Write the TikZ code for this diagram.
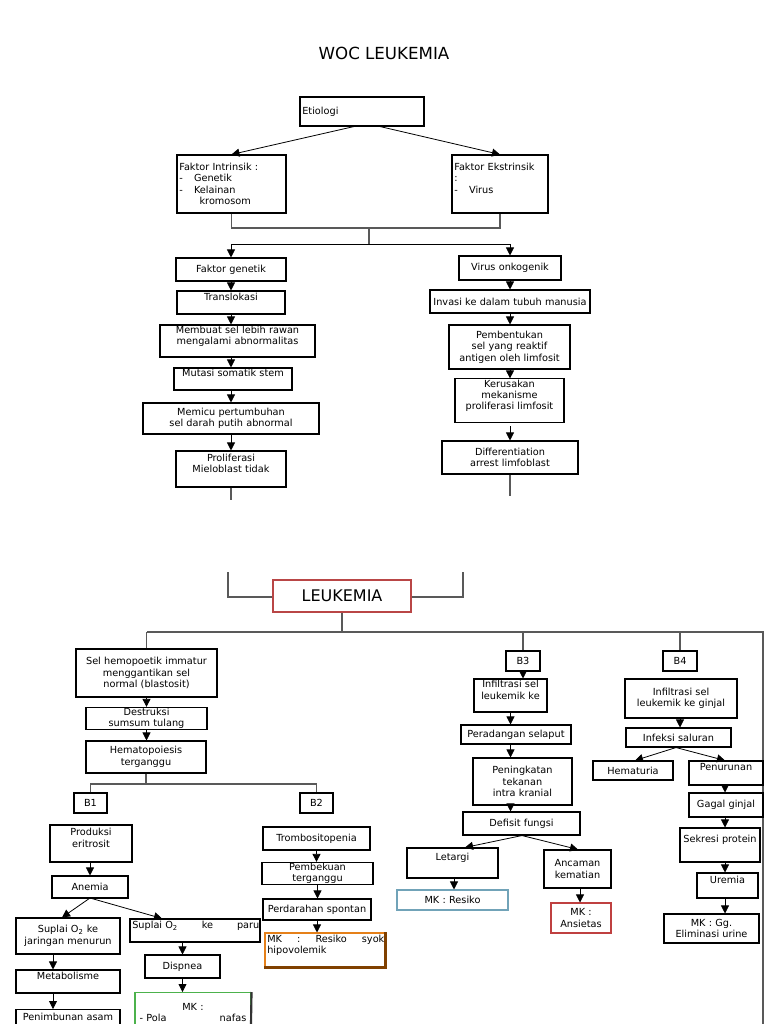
\documentclass[tikz,border=0pt]{standalone}
\usepackage{fontspec}
\setmainfont{DejaVu Sans}
\usetikzlibrary{arrows.meta}
\hyphenpenalty=10000\relax
\exhyphenpenalty=10000\relax
\newcommand\bx[7][]{%
  \pgfmathsetmacro\bw{(#5-#3)*0.75}\pgfmathsetmacro\bh{(#6-#4)*0.75}\pgfmathsetmacro\tw{\bw-1}%
  \node[box,minimum width=\bw pt,minimum height=\bh pt,text width=\tw pt,#1] (#2) at ({(#3+#5)/2},{(#4+#6)/2}) {#7};}
\begin{document}
\begin{tikzpicture}[x=0.75pt,y=-0.75pt,
  box/.style={draw=black,line width=0.8pt,inner sep=0.5pt,align=center,font=\fontsize{7.3}{8.6}\selectfont},
  arr/.style={-{Triangle[length=6pt,width=6pt]},line width=0.6pt},
  ln/.style={draw=gray!70!black,line width=0.8pt}]
\useasboundingbox[fill=white] (0,0) rectangle (768,1024);
\node[font=\fontsize{12.5}{14}\selectfont] (title) at (384,53) {WOC LEUKEMIA};
% top part
\bx[align=left]{eti}{300}{97}{424}{126}{\,Etiologi\\[7pt]}
\bx[align=left]{fi}{177}{155}{286}{213}{\,Faktor Intrinsik :\\\,-\hspace{6pt} Genetik\\\,-\hspace{6pt} Kelainan\\\hspace{14pt} kromosom}
\bx[align=left]{fe}{452}{155}{548}{213}{\,Faktor Ekstrinsik\\\,:\\\,-\hspace{6pt} Virus\\~}
\bx{fg}{176}{258}{286}{281}{Faktor genetik}
\bx{tr}{177}{291}{285}{314}{Translokasi\\~}
\bx{mb}{160}{325}{315}{357}{Membuat sel lebih rawan mengalami abnormalitas\\~}
\bx{mu}{174}{368}{292}{390}{Mutasi somatik stem\\~}
\bx{mc}{143}{403}{319}{434}{Memicu pertumbuhan sel darah putih abnormal}
\bx{pr}{176}{451}{286}{487}{Proliferasi Mieloblast tidak\\~}
\bx{vo}{459}{256}{561}{280}{Virus onkogenik}
\bx{in}{430}{290}{590}{313}{Invasi ke dalam tubuh manusia}
\bx{pb}{449}{325}{570}{369}{Pembentukan sel yang reaktif antigen oleh limfosit}
\bx{ke}{455}{382}{564}{419}{Kerusakan mekanisme proliferasi limfosit\\~}
\bx{di}{442}{441}{578}{474}{Differentiation arrest limfoblast}
\draw[arr] (eti.south) ++(-8,0) coordinate (e1) -- (fi.north);
\draw[arr] (eti.south) ++(18,0) coordinate (e2) -- (fe.north);
\coordinate (j1) at (369,228); \coordinate (j2) at (369,244);
\draw[ln] (fi.south) -- (fi.south|-j1) -- (fe.south|-j1) -- (fe.south);
\draw[ln] (j1) -- (j2);
\draw[arr] (j2) -- (fg.north|-j2) -- (fg.north);
\draw[arr] (j2) -- (vo.north|-j2) -- (vo.north);
\foreach \a/\b in {fg/tr,tr/mb,mb/mu,mu/mc,mc/pr}
  \draw[arr] (\a.south-|231,0) -- (\b.north-|231,0);
\foreach \a/\b in {vo/in,in/pb,pb/ke}
  \draw[arr] (\a.south-|510,0) -- (\b.north-|510,0);
\coordinate (kd) at (510,426);
\draw[arr] (kd) -- (di.north-|kd);
\coordinate (pe) at (231,500); \coordinate (de) at (510,496);
\draw[ln] (pr.south) -- (pe);
\draw[ln] (di.south) -- (de);
% bottom part
\bx[draw=red!45!gray,font=\fontsize{12}{14}\selectfont]{leu}{273}{580}{411}{612}{LEUKEMIA}
\coordinate (l1) at (228,572); \coordinate (r1) at (463,572);
\draw[ln] (l1) -- (228,597) -- (leu.west|-0,597);
\draw[ln] (r1) -- (463,597) -- (leu.east|-0,597);
\coordinate (h0) at (342,632); \coordinate (hr) at (763,632); \coordinate (hb) at (763,1024);
\draw[ln] (leu.south) -- (h0);
\draw[ln] (147,632) -- (hr) -- (hb);
\bx{sh}{76}{649}{217}{697}{Sel hemopoetik immatur menggantikan sel normal (blastosit)}
\bx{ds}{86}{708}{207}{729}{Destruksi sumsum tulang}
\bx{hm}{86}{741}{206}{773}{Hematopoiesis terganggu}
\bx{b1}{74}{793}{107}{813}{B1}
\bx{b2}{300}{793}{333}{813}{B2}
\bx{b3}{506}{651}{540}{671}{B3}
\bx{b4}{663}{651}{697}{671}{B4}
\draw[ln] (sh.north|-h0) -- (sh.north);
\draw[ln] (b3.north|-h0) -- (b3.north);
\draw[ln] (b4.north|-h0) -- (b4.north);
\draw[arr] (sh.south) -- (sh.south|-ds.north);
\draw[arr] (ds.south) -- (ds.south|-hm.north);
\coordinate (hj) at (147,784);
\draw[ln] (hm.south) -- (hm.south|-hj);
\draw[ln] (b1.north) -- (b1.north|-hj) -- (b2.north|-hj) -- (b2.north);
% B1
\bx{pe2}{50}{825}{132}{862}{Produksi eritrosit\\~}
\bx{an}{52}{876}{128}{898}{Anemia}
\bx{sj}{16}{918}{120}{954}{Suplai O\textsubscript{2} ke jaringan menurun}
\bx[align=justify]{sp}{130}{919}{260}{942}{\,Suplai O\textsubscript{2} \hfill ke \hfill paru\\~}
\bx{me}{16}{970}{120}{993}{Metabolisme\\~}
\node[box,anchor=north,minimum width=78pt,minimum height=20pt,text width=77pt] (pn) at (68,1009) {Penimbunan asam\\~};
\bx{dp}{145}{955}{220}{978}{Dispnea}
\node[box,draw=green!40!gray,anchor=north,minimum width=87pt,minimum height=30pt,text width=80pt,align=center] (mk1) at (193,992) {MK :\\- Pola \hfill nafas};
\draw[line width=1.6pt,black!80] (mk1.north east) -- (251,1024);
\draw[arr] (pe2.south-|an.south) -- (an.north);
\draw[arr] (90,898) -- (sj.north-|62,0);
\draw[arr] (90,898) -- (sp.north-|162,0);
\draw[arr] (sj.south-|53,0) -- (me.north-|53,0);
\draw[arr] (me.south-|53,0) -- (pn.north-|53,0);
\draw[arr] (sp.south-|dp.north) -- (dp.north);
\draw[arr] (dp.south) -- (dp.south|-mk1.north);
% B2
\bx{tb}{263}{827}{370}{850}{Trombositopenia}
\bx{pk}{262}{863}{373}{884}{Pembekuan terganggu}
\bx{pd}{263}{899}{371}{920}{Perdarahan spontan}
\bx[draw=orange!60!brown,align=left]{mk2}{265}{933}{385}{967}{\,MK \hfill: \hfill Resiko \hfill syok\\\,hipovolemik\\~}
\draw[line width=1.6pt,orange!50!black] (mk2.north east) -- (mk2.south east) -- (mk2.south west);
\draw[arr] (tb.south) -- (tb.south|-pk.north);
\draw[arr] (pk.south) -- (pk.south|-pd.north);
\draw[arr] (pd.south) -- (pd.south|-mk2.north);
% B3
\bx{i3}{474}{679}{547}{712}{Infiltrasi sel leukemik ke\\~}
\bx{pa}{461}{725}{571}{744}{Peradangan selaput}
\bx{pg}{473}{758}{572}{805}{Peningkatan tekanan intra kranial}
\bx{df}{463}{812}{580}{835}{Defisit fungsi}
\bx{lt}{407}{848}{498}{878}{Letargi\\~}
\bx{ac}{544}{850}{611}{888}{Ancaman kematian}
\bx[draw=cyan!40!gray]{mk3}{397}{890}{508}{910}{MK : Resiko}
\bx[draw=red!50!gray]{mk4}{551}{903}{611}{933}{MK :\\Ansietas}
\draw[arr] (b3.south) -- (b3.south|-i3.north) ;
\draw[arr] (i3.south) -- (i3.south|-pa.north);
\draw[arr] (pa.south-|i3.south) -- (pg.north-|i3.south);
\draw[arr] (pg.south-|i3.south) -- (df.north-|i3.south);
\draw[arr] (df.south-|522,0) -- (lt.north-|465,0);
\draw[arr] (df.south-|522,0) -- (ac.north-|578,0);
\draw[arr] (lt.south-|454,0) -- (mk3.north-|454,0);
\draw[arr] (ac.south-|580,0) -- (mk4.north-|580,0);
% B4
\bx{i4}{625}{679}{737}{718}{Infiltrasi sel leukemik ke ginjal}
\bx{ik}{626}{728}{731}{747}{Infeksi saluran}
\bx{ht}{593}{761}{673}{780}{Hematuria}
\bx{pu}{689}{761}{763}{785}{Penurunan\\~}
\bx{gg}{689}{793}{763}{817}{Gagal ginjal}
\bx{sk}{680}{828}{760}{862}{Sekresi protein\\~}
\bx{ur}{697}{873}{758}{898}{Uremia\\~}
\bx{mk5}{664}{914}{759}{943}{MK : Gg. Eliminasi urine}
\draw[arr] (i4.south-|680,0) -- (ik.north-|680,0);
\draw[arr] (ik.south-|676,0) -- (ht.north-|635,0);
\draw[arr] (ik.south-|676,0) -- (pu.north-|725,0);
\foreach \a/\b in {pu/gg,gg/sk,sk/ur,ur/mk5}
  \draw[arr] (\a.south-|725,0) -- (\b.north-|725,0);
\end{tikzpicture}
\end{document}
